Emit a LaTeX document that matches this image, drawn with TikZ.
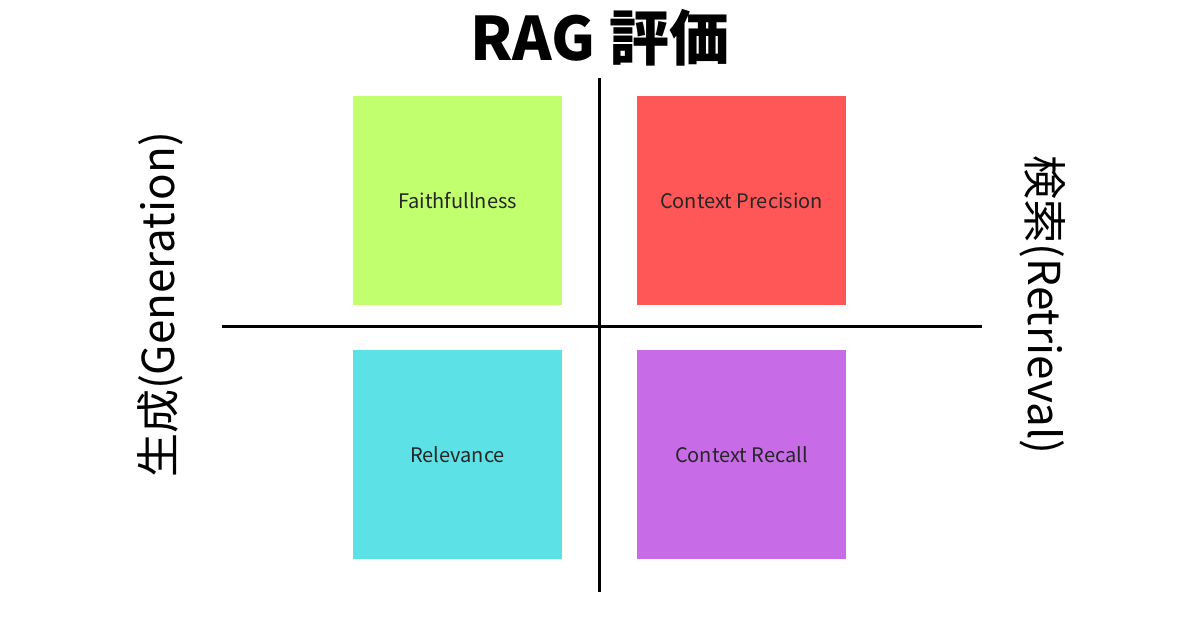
\documentclass[tikz,border=0pt]{standalone}
\usepackage{fontspec}
\setmainfont{Noto Sans CJK JP}
\definecolor{cgreen}{HTML}{C2FF6E}
\definecolor{cred}{HTML}{FF5757}
\definecolor{ccyan}{HTML}{5CE1E6}
\definecolor{cpurple}{HTML}{C86BE6}
\begin{document}
\begin{tikzpicture}[x=1pt,y=-1pt,
  quad/.style={minimum width=209pt,minimum height=209pt,inner sep=0pt,font=\fontsize{20}{24}\selectfont,text=black!85},
  axis/.style={line width=3pt,black}]
\useasboundingbox (0,0) rectangle (1200,628);
\node[quad,fill=cgreen] (faith) at (457.5,200.5) {Faithfullness};
\node[quad,fill=cred] (prec) at (741.5,200.5) {Context Precision};
\node[quad,fill=ccyan] (rel) at (457.5,454.5) {Relevance};
\node[quad,fill=cpurple] (rec) at (741.5,454.5) {Context Recall};
\coordinate (vt) at (599,78); \coordinate (vb) at (599,592);
\coordinate (hl) at (222,327); \coordinate (hr) at (982,327);
\draw[axis] (vt) -- (vb);
\draw[axis] (hl) -- (hr);
\node[font=\fontsize{60}{70}\selectfont\bfseries] (title) at (600,38) {RAG 評価};
\node[font=\fontsize{44}{50}\selectfont,rotate=90] (gen) at (160,305) {生成(Generation)};
\node[font=\fontsize{44}{50}\selectfont,rotate=-90] (ret) at (1043,305) {検索(Retrieval)};
\end{tikzpicture}
\end{document}
